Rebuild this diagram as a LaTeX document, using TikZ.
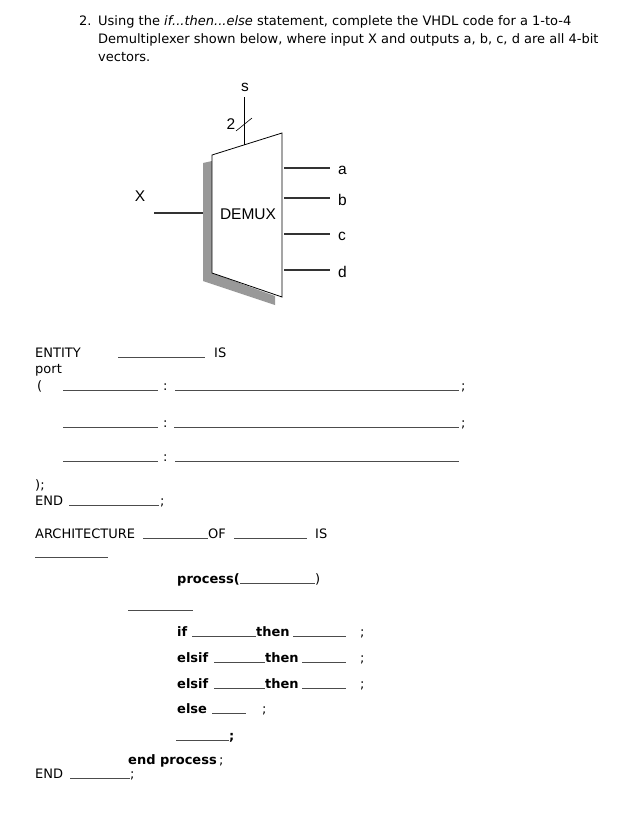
\documentclass[tikz,border=0pt]{standalone}
\usepackage{fontspec}
\setmainfont{DejaVu Sans}
\newfontfamily\arialf{Liberation Sans}
\begin{document}
\begin{tikzpicture}[x=1pt,y=-1pt,
  txt/.style={anchor=base west,inner sep=0pt,font=\fontsize{13}{15}\selectfont},
  btxt/.style={txt,font=\fontsize{13}{15}\selectfont\bfseries},
  lbl/.style={inner sep=0pt,font=\arialf\fontsize{15.5}{17}\selectfont},
  blank/.style={draw=black!70,line width=0.6pt},
  wire/.style={draw=black!80,line width=2pt}]
\useasboundingbox (0,0) rectangle (638,831);
% question
\node[txt] (q1) at (79,25) {2.};
\node[txt] (q2) at (98,25) {Using the \textit{if...then...else} statement, complete the VHDL code for a 1-to-4};
\node[txt] (q3) at (98,43) {Demultiplexer shown below, where input X and outputs a, b, c, d are all 4-bit};
\node[txt] (q4) at (98,61) {vectors.};
% demux
\fill[black!40] (203,163) -- (212,161) -- (212,273) -- (275,296) -- (275,305) -- (203,281) -- cycle;
\draw[line width=0.8pt,fill=white] (212,155) -- (282,133) -- (282,297) -- (212,273) -- cycle;
\coordinate (stop) at (244,97);
\coordinate (sbot) at (244,145);
\draw[line width=0.8pt] (stop) -- (sbot);
\draw[line width=0.6pt] (236,131) -- (252,118);
\node[lbl] (s) at (245,87) {s};
\node[lbl] (two) at (231,124) {2};
\node[lbl] (X) at (140,196) {X};
\node[lbl] (dm) at (248,214) {DEMUX};
\coordinate (xin) at (154,213);
\coordinate (xend) at (203,213);
\draw[wire] (xin) -- (xend);
\foreach \y/\n in {168/a,198/b,234/c,270/d}{
  \coordinate (o\n) at (284,\y);
  \coordinate (e\n) at (330,\y);
  \draw[wire] (o\n) -- (e\n);
  \node[lbl,anchor=west] (l\n) at (338,\y+2) {\n};
}
% entity
\node[txt] (ent) at (35,357) {ENTITY}; \draw[blank] (118,357) -- (205,357);
\node[txt] (is1) at (214,357) {IS};
\node[txt] (port) at (35,373) {port};
\node[txt] (par) at (37,390) {(};
\draw[blank] (63,390) -- (158,390); \node[txt] (c1) at (163,390) {:};
\draw[blank] (175,390) -- (459,390); \node[txt] (sc1) at (461,390) {;};
\draw[blank] (63,427) -- (158,427); \node[txt] (c2) at (163,427) {:};
\draw[blank] (174,427) -- (459,427); \node[txt] (sc2) at (461,427) {;};
\draw[blank] (63,461) -- (158,461); \node[txt] (c3) at (163,461) {:};
\draw[blank] (175,461) -- (459,461);
\node[txt] (cl) at (35,489) {);};
\node[txt] (end1) at (35,505) {END}; \draw[blank] (69,505) -- (159,505);
\node[txt] (sc3) at (160,505) {;};
\node[txt] (arch) at (35,538) {ARCHITECTURE}; \draw[blank] (143,538) -- (208,538);
\node[txt] (of) at (208,538) {OF}; \draw[blank] (234,538) -- (307,538);
\node[txt] (is2) at (315,538) {IS};
\draw[blank] (35,557) -- (108,557);
\node[btxt] (proc) at (177,583) {process(}; \draw[blank] (240,583) -- (315,583);
\node[txt] (pc) at (315,583) {)};
\draw[blank] (128,610) -- (193,610);
\node[btxt] (if) at (177,636) {if}; \draw[blank] (192,636) -- (256,636);
\node[btxt] (th1) at (256,636) {then}; \draw[blank] (293,636) -- (346,636);
\node[txt] (s1) at (360,636) {;};
\node[btxt] (ei1) at (177,662) {elsif}; \draw[blank] (214,662) -- (265,662);
\node[btxt] (th2) at (265,662) {then}; \draw[blank] (302,662) -- (346,662);
\node[txt] (s2) at (360,662) {;};
\node[btxt] (ei2) at (177,688) {elsif}; \draw[blank] (214,688) -- (265,688);
\node[btxt] (th3) at (265,688) {then}; \draw[blank] (302,688) -- (346,688);
\node[txt] (s3) at (360,688) {;};
\node[btxt] (els) at (177,713) {else}; \draw[blank] (212,713) -- (246,713);
\node[txt] (s4) at (262,713) {;};
\draw[blank] (176,740) -- (229,740); \node[btxt] (s5) at (229,740) {;};
\node[btxt] (ep) at (128,764) {end process}; \node[txt] (s6) at (219,764) {;};
\node[txt] (end2) at (35,778) {END}; \draw[blank] (70,778) -- (130,778);
\node[txt] (s7) at (130,778) {;};
\end{tikzpicture}
\end{document}
